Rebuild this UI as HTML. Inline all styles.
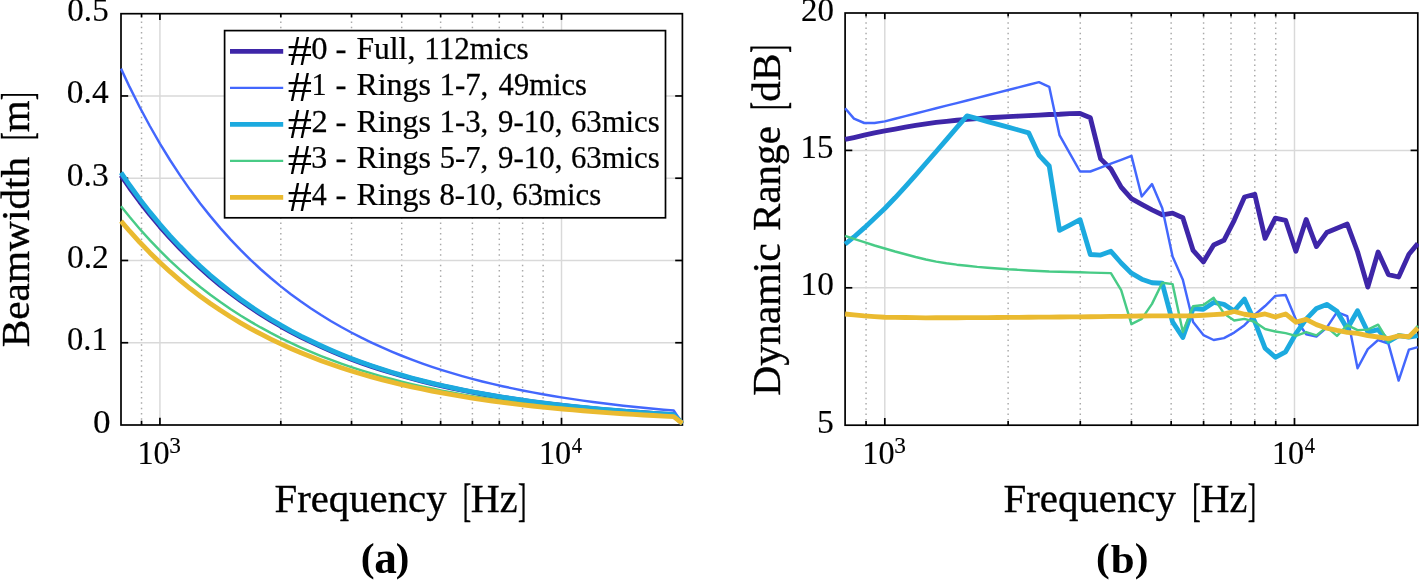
<!DOCTYPE html>
<html><head><meta charset="utf-8"><title>Beamwidth and Dynamic Range</title>
<style>html,body{margin:0;padding:0;background:#fff}svg{display:block}</style></head>
<body>
<svg width="1419" height="582" viewBox="0 0 1419 582">
<rect width="1419" height="582" fill="#fff"/>
<line x1="159.92" y1="13.70" x2="159.92" y2="425.00" stroke="#d9d9d9" stroke-width="1.45"/>
<line x1="561.51" y1="13.70" x2="561.51" y2="425.00" stroke="#d9d9d9" stroke-width="1.45"/>
<line x1="141.54" y1="16.20" x2="141.54" y2="425.00" stroke="#a9a9a9" stroke-width="1.45" stroke-dasharray="1.5 3.79"/>
<line x1="280.81" y1="16.20" x2="280.81" y2="425.00" stroke="#a9a9a9" stroke-width="1.45" stroke-dasharray="1.5 3.79"/>
<line x1="351.53" y1="16.20" x2="351.53" y2="425.00" stroke="#a9a9a9" stroke-width="1.45" stroke-dasharray="1.5 3.79"/>
<line x1="401.70" y1="16.20" x2="401.70" y2="425.00" stroke="#a9a9a9" stroke-width="1.45" stroke-dasharray="1.5 3.79"/>
<line x1="440.62" y1="16.20" x2="440.62" y2="425.00" stroke="#a9a9a9" stroke-width="1.45" stroke-dasharray="1.5 3.79"/>
<line x1="472.42" y1="16.20" x2="472.42" y2="425.00" stroke="#a9a9a9" stroke-width="1.45" stroke-dasharray="1.5 3.79"/>
<line x1="499.30" y1="16.20" x2="499.30" y2="425.00" stroke="#a9a9a9" stroke-width="1.45" stroke-dasharray="1.5 3.79"/>
<line x1="522.59" y1="16.20" x2="522.59" y2="425.00" stroke="#a9a9a9" stroke-width="1.45" stroke-dasharray="1.5 3.79"/>
<line x1="543.13" y1="16.20" x2="543.13" y2="425.00" stroke="#a9a9a9" stroke-width="1.45" stroke-dasharray="1.5 3.79"/>
<line x1="121.00" y1="342.74" x2="682.40" y2="342.74" stroke="#d9d9d9" stroke-width="1.45"/>
<line x1="121.00" y1="260.48" x2="682.40" y2="260.48" stroke="#d9d9d9" stroke-width="1.45"/>
<line x1="121.00" y1="178.22" x2="682.40" y2="178.22" stroke="#d9d9d9" stroke-width="1.45"/>
<line x1="121.00" y1="95.96" x2="682.40" y2="95.96" stroke="#d9d9d9" stroke-width="1.45"/>
<line x1="884.80" y1="13.00" x2="884.80" y2="425.20" stroke="#d9d9d9" stroke-width="1.45"/>
<line x1="1294.48" y1="13.00" x2="1294.48" y2="425.20" stroke="#d9d9d9" stroke-width="1.45"/>
<line x1="866.06" y1="16.85" x2="866.06" y2="425.20" stroke="#a9a9a9" stroke-width="1.45" stroke-dasharray="1.5 3.79"/>
<line x1="1008.13" y1="16.85" x2="1008.13" y2="425.20" stroke="#a9a9a9" stroke-width="1.45" stroke-dasharray="1.5 3.79"/>
<line x1="1080.27" y1="16.85" x2="1080.27" y2="425.20" stroke="#a9a9a9" stroke-width="1.45" stroke-dasharray="1.5 3.79"/>
<line x1="1131.45" y1="16.85" x2="1131.45" y2="425.20" stroke="#a9a9a9" stroke-width="1.45" stroke-dasharray="1.5 3.79"/>
<line x1="1171.15" y1="16.85" x2="1171.15" y2="425.20" stroke="#a9a9a9" stroke-width="1.45" stroke-dasharray="1.5 3.79"/>
<line x1="1203.59" y1="16.85" x2="1203.59" y2="425.20" stroke="#a9a9a9" stroke-width="1.45" stroke-dasharray="1.5 3.79"/>
<line x1="1231.02" y1="16.85" x2="1231.02" y2="425.20" stroke="#a9a9a9" stroke-width="1.45" stroke-dasharray="1.5 3.79"/>
<line x1="1254.77" y1="16.85" x2="1254.77" y2="425.20" stroke="#a9a9a9" stroke-width="1.45" stroke-dasharray="1.5 3.79"/>
<line x1="1275.73" y1="16.85" x2="1275.73" y2="425.20" stroke="#a9a9a9" stroke-width="1.45" stroke-dasharray="1.5 3.79"/>
<line x1="845.10" y1="287.80" x2="1417.80" y2="287.80" stroke="#d9d9d9" stroke-width="1.45"/>
<line x1="845.10" y1="150.40" x2="1417.80" y2="150.40" stroke="#d9d9d9" stroke-width="1.45"/>
<line x1="159.92" y1="425.00" x2="159.92" y2="417.80" stroke="#000" stroke-width="1.70"/>
<line x1="159.92" y1="13.70" x2="159.92" y2="19.90" stroke="#000" stroke-width="1.70"/>
<line x1="561.51" y1="425.00" x2="561.51" y2="417.80" stroke="#000" stroke-width="1.70"/>
<line x1="561.51" y1="13.70" x2="561.51" y2="19.90" stroke="#000" stroke-width="1.70"/>
<line x1="141.54" y1="425.00" x2="141.54" y2="420.70" stroke="#000" stroke-width="1.70"/>
<line x1="141.54" y1="13.70" x2="141.54" y2="17.30" stroke="#000" stroke-width="1.70"/>
<line x1="280.81" y1="425.00" x2="280.81" y2="420.70" stroke="#000" stroke-width="1.70"/>
<line x1="280.81" y1="13.70" x2="280.81" y2="17.30" stroke="#000" stroke-width="1.70"/>
<line x1="351.53" y1="425.00" x2="351.53" y2="420.70" stroke="#000" stroke-width="1.70"/>
<line x1="351.53" y1="13.70" x2="351.53" y2="17.30" stroke="#000" stroke-width="1.70"/>
<line x1="401.70" y1="425.00" x2="401.70" y2="420.70" stroke="#000" stroke-width="1.70"/>
<line x1="401.70" y1="13.70" x2="401.70" y2="17.30" stroke="#000" stroke-width="1.70"/>
<line x1="440.62" y1="425.00" x2="440.62" y2="420.70" stroke="#000" stroke-width="1.70"/>
<line x1="440.62" y1="13.70" x2="440.62" y2="17.30" stroke="#000" stroke-width="1.70"/>
<line x1="472.42" y1="425.00" x2="472.42" y2="420.70" stroke="#000" stroke-width="1.70"/>
<line x1="472.42" y1="13.70" x2="472.42" y2="17.30" stroke="#000" stroke-width="1.70"/>
<line x1="499.30" y1="425.00" x2="499.30" y2="420.70" stroke="#000" stroke-width="1.70"/>
<line x1="499.30" y1="13.70" x2="499.30" y2="17.30" stroke="#000" stroke-width="1.70"/>
<line x1="522.59" y1="425.00" x2="522.59" y2="420.70" stroke="#000" stroke-width="1.70"/>
<line x1="522.59" y1="13.70" x2="522.59" y2="17.30" stroke="#000" stroke-width="1.70"/>
<line x1="543.13" y1="425.00" x2="543.13" y2="420.70" stroke="#000" stroke-width="1.70"/>
<line x1="543.13" y1="13.70" x2="543.13" y2="17.30" stroke="#000" stroke-width="1.70"/>
<line x1="121.00" y1="342.74" x2="128.20" y2="342.74" stroke="#000" stroke-width="1.70"/>
<line x1="682.40" y1="342.74" x2="675.20" y2="342.74" stroke="#000" stroke-width="1.70"/>
<line x1="121.00" y1="260.48" x2="128.20" y2="260.48" stroke="#000" stroke-width="1.70"/>
<line x1="682.40" y1="260.48" x2="675.20" y2="260.48" stroke="#000" stroke-width="1.70"/>
<line x1="121.00" y1="178.22" x2="128.20" y2="178.22" stroke="#000" stroke-width="1.70"/>
<line x1="682.40" y1="178.22" x2="675.20" y2="178.22" stroke="#000" stroke-width="1.70"/>
<line x1="121.00" y1="95.96" x2="128.20" y2="95.96" stroke="#000" stroke-width="1.70"/>
<line x1="682.40" y1="95.96" x2="675.20" y2="95.96" stroke="#000" stroke-width="1.70"/>
<rect x="121.00" y="13.70" width="561.40" height="411.30" fill="none" stroke="#000" stroke-width="1.70"/>
<line x1="884.80" y1="425.20" x2="884.80" y2="418.00" stroke="#000" stroke-width="1.70"/>
<line x1="884.80" y1="13.00" x2="884.80" y2="19.20" stroke="#000" stroke-width="1.70"/>
<line x1="1294.48" y1="425.20" x2="1294.48" y2="418.00" stroke="#000" stroke-width="1.70"/>
<line x1="1294.48" y1="13.00" x2="1294.48" y2="19.20" stroke="#000" stroke-width="1.70"/>
<line x1="866.06" y1="425.20" x2="866.06" y2="420.90" stroke="#000" stroke-width="1.70"/>
<line x1="866.06" y1="13.00" x2="866.06" y2="16.60" stroke="#000" stroke-width="1.70"/>
<line x1="1008.13" y1="425.20" x2="1008.13" y2="420.90" stroke="#000" stroke-width="1.70"/>
<line x1="1008.13" y1="13.00" x2="1008.13" y2="16.60" stroke="#000" stroke-width="1.70"/>
<line x1="1080.27" y1="425.20" x2="1080.27" y2="420.90" stroke="#000" stroke-width="1.70"/>
<line x1="1080.27" y1="13.00" x2="1080.27" y2="16.60" stroke="#000" stroke-width="1.70"/>
<line x1="1131.45" y1="425.20" x2="1131.45" y2="420.90" stroke="#000" stroke-width="1.70"/>
<line x1="1131.45" y1="13.00" x2="1131.45" y2="16.60" stroke="#000" stroke-width="1.70"/>
<line x1="1171.15" y1="425.20" x2="1171.15" y2="420.90" stroke="#000" stroke-width="1.70"/>
<line x1="1171.15" y1="13.00" x2="1171.15" y2="16.60" stroke="#000" stroke-width="1.70"/>
<line x1="1203.59" y1="425.20" x2="1203.59" y2="420.90" stroke="#000" stroke-width="1.70"/>
<line x1="1203.59" y1="13.00" x2="1203.59" y2="16.60" stroke="#000" stroke-width="1.70"/>
<line x1="1231.02" y1="425.20" x2="1231.02" y2="420.90" stroke="#000" stroke-width="1.70"/>
<line x1="1231.02" y1="13.00" x2="1231.02" y2="16.60" stroke="#000" stroke-width="1.70"/>
<line x1="1254.77" y1="425.20" x2="1254.77" y2="420.90" stroke="#000" stroke-width="1.70"/>
<line x1="1254.77" y1="13.00" x2="1254.77" y2="16.60" stroke="#000" stroke-width="1.70"/>
<line x1="1275.73" y1="425.20" x2="1275.73" y2="420.90" stroke="#000" stroke-width="1.70"/>
<line x1="1275.73" y1="13.00" x2="1275.73" y2="16.60" stroke="#000" stroke-width="1.70"/>
<line x1="845.10" y1="287.80" x2="852.30" y2="287.80" stroke="#000" stroke-width="1.70"/>
<line x1="1417.80" y1="287.80" x2="1410.60" y2="287.80" stroke="#000" stroke-width="1.70"/>
<line x1="845.10" y1="150.40" x2="852.30" y2="150.40" stroke="#000" stroke-width="1.70"/>
<line x1="1417.80" y1="150.40" x2="1410.60" y2="150.40" stroke="#000" stroke-width="1.70"/>
<rect x="845.10" y="13.00" width="572.70" height="412.20" fill="none" stroke="#000" stroke-width="1.70"/>
<g fill="none" stroke-linejoin="round" stroke-linecap="butt">
<polyline points="121.00,175.45 129.70,187.97 139.77,201.64 149.84,214.48 159.92,226.54 169.99,237.87 180.07,248.54 190.14,258.57 200.22,268.01 210.29,276.90 220.36,285.27 230.44,293.16 240.51,300.59 250.59,307.59 260.66,314.19 270.73,320.41 280.81,326.27 290.88,331.80 300.96,337.02 311.03,341.94 321.11,346.62 331.18,351.04 341.25,355.21 351.33,359.14 361.40,362.85 371.48,366.35 381.55,369.66 391.63,372.77 401.70,375.72 411.77,378.49 421.85,381.11 431.92,383.58 442.00,385.91 452.07,388.11 462.15,390.19 472.22,392.15 482.29,394.00 492.37,395.75 502.44,397.40 512.52,398.95 522.59,400.42 532.67,401.81 542.74,403.11 552.81,404.35 562.89,405.51 572.96,406.61 583.04,407.65 593.11,408.63 603.18,409.55 613.26,410.43 623.33,411.25 633.41,412.03 643.48,412.76 653.56,413.45 663.63,414.11 673.70,414.73 682.40,423.44" stroke="#3E26A8" stroke-width="4.85"/>
<polyline points="121.00,68.64 129.70,87.15 139.77,107.24 149.84,126.01 159.92,143.57 169.99,160.00 180.07,175.40 190.14,189.84 200.22,203.40 210.29,216.13 220.36,228.09 230.44,239.33 240.51,249.91 250.59,259.86 260.66,269.23 270.73,278.04 280.81,286.35 290.88,294.17 300.96,301.54 311.03,308.49 321.11,315.04 331.18,321.21 341.25,327.03 351.33,332.52 361.40,337.69 371.48,342.58 381.55,347.23 391.63,351.61 401.70,355.75 411.77,359.65 421.85,363.33 431.92,366.81 442.00,370.08 452.07,373.18 462.15,376.09 472.22,378.85 482.29,381.45 492.37,383.90 502.44,386.21 512.52,388.40 522.59,390.46 532.67,392.41 542.74,394.24 552.81,395.97 562.89,397.61 572.96,399.15 583.04,400.61 593.11,401.99 603.18,403.28 613.26,404.51 623.33,405.66 633.41,406.75 643.48,407.78 653.56,408.76 663.63,409.67 673.70,410.54 682.40,423.44" stroke="#4367FD" stroke-width="2.45"/>
<polyline points="121.00,172.63 129.70,185.30 139.77,199.13 149.84,212.12 159.92,224.32 169.99,235.79 180.07,246.58 190.14,256.73 200.22,266.28 210.29,275.27 220.36,283.73 230.44,291.71 240.51,299.22 250.59,306.30 260.66,312.97 270.73,319.27 280.81,325.20 290.88,330.79 300.96,336.06 311.03,341.04 321.11,345.76 331.18,350.23 341.25,354.44 351.33,358.42 361.40,362.17 371.48,365.71 381.55,369.05 391.63,372.20 401.70,375.18 411.77,377.98 421.85,380.63 431.92,383.13 442.00,385.49 452.07,387.71 462.15,389.81 472.22,391.79 482.29,393.66 492.37,395.43 502.44,397.09 512.52,398.67 522.59,400.15 532.67,401.55 542.74,402.87 552.81,404.12 562.89,405.30 572.96,406.41 583.04,407.46 593.11,408.45 603.18,409.38 613.26,410.27 623.33,411.10 633.41,411.89 643.48,412.63 653.56,413.33 663.63,413.99 673.70,414.61 682.40,423.44" stroke="#1CAADF" stroke-width="4.85"/>
<polyline points="121.00,206.16 129.70,217.05 139.77,228.95 149.84,240.15 159.92,250.67 169.99,260.58 180.07,269.90 190.14,278.68 200.22,286.95 210.29,294.74 220.36,302.08 230.44,308.99 240.51,315.51 250.59,321.66 260.66,327.45 270.73,332.91 280.81,338.07 290.88,342.93 300.96,347.56 311.03,351.93 321.11,356.05 331.18,359.93 341.25,363.60 351.33,367.06 361.40,370.32 371.48,373.40 381.55,376.31 391.63,379.05 401.70,381.64 411.77,384.08 421.85,386.38 431.92,388.56 442.00,390.61 452.07,392.55 462.15,394.37 472.22,396.10 482.29,397.73 492.37,399.27 502.44,400.72 512.52,402.08 522.59,403.38 532.67,404.60 542.74,405.75 552.81,406.83 562.89,407.86 572.96,408.83 583.04,409.74 593.11,410.60 603.18,411.42 613.26,412.18 623.33,412.91 633.41,413.59 643.48,414.24 653.56,414.85 663.63,415.42 673.70,415.97 682.40,423.44" stroke="#48CB86" stroke-width="2.45"/>
<polyline points="121.00,221.11 129.70,231.22 139.77,242.28 149.84,252.68 159.92,262.46 169.99,271.68 180.07,280.35 190.14,288.52 200.22,296.22 210.29,303.47 220.36,310.31 230.44,316.75 240.51,322.83 250.59,328.56 260.66,333.96 270.73,339.05 280.81,343.87 290.88,348.44 300.96,352.76 311.03,356.83 321.11,360.67 331.18,364.30 341.25,367.72 351.33,370.94 361.40,373.99 371.48,376.86 381.55,379.57 391.63,382.13 401.70,384.54 411.77,386.82 421.85,388.97 431.92,391.00 442.00,392.92 452.07,394.72 462.15,396.43 472.22,398.04 482.29,399.56 492.37,400.99 502.44,402.35 512.52,403.62 522.59,404.83 532.67,405.97 542.74,407.04 552.81,408.05 562.89,409.01 572.96,409.91 583.04,410.77 593.11,411.57 603.18,412.33 613.26,413.05 623.33,413.72 633.41,414.36 643.48,414.97 653.56,415.53 663.63,416.07 673.70,416.58 682.40,423.44" stroke="#EABA30" stroke-width="4.85"/>
</g>
<g fill="none" stroke-linejoin="round" stroke-linecap="butt">
<polyline points="845.10,139.44 853.97,137.52 864.25,135.06 874.52,132.86 884.80,130.95 895.08,129.03 905.36,127.11 915.63,125.47 925.91,123.82 936.19,122.45 946.46,121.36 956.74,120.26 967.02,119.44 977.29,118.62 987.57,117.79 997.85,117.25 1008.13,116.70 1018.40,116.15 1028.68,115.60 1038.96,115.05 1049.23,114.51 1059.51,114.23 1069.79,113.68 1080.06,113.41 1090.34,117.79 1100.62,158.89 1110.90,169.03 1121.17,187.12 1131.45,198.62 1141.73,204.38 1152.00,209.86 1162.28,214.79 1172.56,213.15 1182.84,217.80 1193.11,250.41 1203.39,261.92 1213.67,244.93 1223.94,240.27 1234.22,220.27 1244.50,196.98 1254.77,194.24 1265.05,238.35 1275.33,218.08 1285.61,220.27 1295.88,251.23 1306.16,219.45 1316.44,246.57 1326.71,232.60 1336.99,228.22 1347.27,224.11 1357.54,251.78 1367.82,287.13 1378.10,252.05 1388.38,274.52 1398.65,276.99 1408.93,254.25 1417.80,243.56" stroke="#3E26A8" stroke-width="4.85"/>
<polyline points="845.10,108.20 853.97,118.62 864.25,123.00 874.52,123.00 884.80,121.36 895.08,118.74 905.36,116.13 915.63,113.52 925.91,110.91 936.19,108.30 946.46,105.68 956.74,103.07 967.02,100.46 977.29,97.85 987.57,95.23 997.85,92.62 1008.13,90.01 1018.40,87.40 1028.68,84.79 1038.96,82.17 1049.23,86.83 1059.51,135.06 1069.79,153.41 1080.06,171.50 1090.34,171.50 1100.62,167.59 1110.90,163.69 1121.17,159.78 1131.45,155.88 1141.73,196.43 1152.00,184.10 1162.28,208.21 1172.56,256.44 1182.84,279.73 1193.11,321.92 1203.39,335.08 1213.67,340.01 1223.94,338.09 1234.22,332.61 1244.50,325.21 1254.77,314.80 1265.05,306.03 1275.33,295.89 1285.61,295.07 1295.88,319.46 1306.16,334.25 1316.44,336.45 1326.71,327.68 1336.99,312.06 1347.27,316.17 1357.54,368.23 1367.82,349.05 1378.10,340.01 1388.38,343.57 1398.65,380.56 1408.93,349.60 1417.80,347.13" stroke="#4367FD" stroke-width="2.45"/>
<polyline points="845.10,244.11 853.97,236.98 864.25,227.94 874.52,218.35 884.80,208.49 895.08,197.80 905.36,186.57 915.63,175.06 925.91,163.28 936.19,151.50 946.46,139.71 956.74,127.66 967.02,115.88 977.29,118.71 987.57,121.54 997.85,124.37 1008.13,127.20 1018.40,130.03 1028.68,132.86 1038.96,155.06 1049.23,166.02 1059.51,230.41 1069.79,225.20 1080.06,219.72 1090.34,254.52 1100.62,255.07 1110.90,251.23 1121.17,263.01 1131.45,273.15 1141.73,279.18 1152.00,282.74 1162.28,283.29 1172.56,321.92 1182.84,337.54 1193.11,308.50 1203.39,309.32 1213.67,302.47 1223.94,304.39 1234.22,310.96 1244.50,299.18 1254.77,321.65 1265.05,348.23 1275.33,357.27 1285.61,351.79 1295.88,333.71 1306.16,319.18 1316.44,308.50 1326.71,304.39 1336.99,311.24 1347.27,328.77 1357.54,310.69 1367.82,332.06 1378.10,329.60 1388.38,341.65 1398.65,335.62 1408.93,336.99 1417.80,335.62" stroke="#1CAADF" stroke-width="4.85"/>
<polyline points="845.10,235.89 853.97,238.90 864.25,242.19 874.52,245.48 884.80,248.49 895.08,251.51 905.36,254.25 915.63,256.99 925.91,259.45 936.19,261.64 946.46,263.29 956.74,264.66 967.02,265.75 977.29,266.85 987.57,267.67 997.85,268.49 1008.13,269.32 1018.40,269.86 1028.68,270.41 1038.96,270.96 1049.23,271.51 1059.51,271.78 1069.79,272.06 1080.06,272.33 1090.34,272.60 1100.62,272.88 1110.90,273.15 1121.17,290.14 1131.45,324.12 1141.73,318.91 1152.00,303.84 1162.28,282.74 1172.56,284.11 1182.84,332.06 1193.11,306.31 1203.39,304.94 1213.67,297.81 1223.94,313.43 1234.22,320.55 1244.50,318.91 1254.77,321.92 1265.05,329.05 1275.33,331.51 1285.61,333.16 1295.88,335.90 1306.16,332.06 1316.44,335.35 1326.71,327.13 1336.99,335.90 1347.27,325.21 1357.54,330.14 1367.82,329.60 1378.10,324.66 1388.38,341.65 1398.65,334.53 1408.93,336.45 1417.80,325.76" stroke="#48CB86" stroke-width="2.45"/>
<polyline points="845.10,313.98 853.97,314.94 864.25,315.90 874.52,316.58 884.80,317.27 895.08,317.40 905.36,317.54 915.63,317.68 925.91,317.81 936.19,317.77 946.46,317.74 956.74,317.70 967.02,317.66 977.29,317.62 987.57,317.58 997.85,317.54 1008.13,317.45 1018.40,317.36 1028.68,317.27 1038.96,317.17 1049.23,317.08 1059.51,316.99 1069.79,316.90 1080.06,316.81 1090.34,316.72 1100.62,316.58 1110.90,316.44 1121.17,316.31 1131.45,316.17 1141.73,316.03 1152.00,315.90 1162.28,315.90 1172.56,315.90 1182.84,315.90 1193.11,315.90 1203.39,315.26 1213.67,314.62 1223.94,313.98 1234.22,311.51 1244.50,314.25 1254.77,315.90 1265.05,313.98 1275.33,316.99 1285.61,313.98 1295.88,322.20 1306.16,319.46 1316.44,324.66 1326.71,328.23 1336.99,330.42 1347.27,332.34 1357.54,333.43 1367.82,335.62 1378.10,336.99 1388.38,338.64 1398.65,335.90 1408.93,336.72 1417.80,327.95" stroke="#EABA30" stroke-width="4.85"/>
</g>
<rect x="224.60" y="30.60" width="440.90" height="187.20" fill="#fff" stroke="#000" stroke-width="1.70"/>
<line x1="230" y1="51.35" x2="283.2" y2="51.35" stroke="#3E26A8" stroke-width="4.85"/>
<line x1="230" y1="87.85" x2="283.2" y2="87.85" stroke="#4367FD" stroke-width="2.45"/>
<line x1="230" y1="124.35" x2="283.2" y2="124.35" stroke="#1CAADF" stroke-width="4.85"/>
<line x1="230" y1="160.85" x2="283.2" y2="160.85" stroke="#48CB86" stroke-width="2.45"/>
<line x1="230" y1="197.35" x2="283.2" y2="197.35" stroke="#EABA30" stroke-width="4.85"/>
<g font-family="'Liberation Serif', serif" fill="#000" stroke="#000" stroke-width="0.35">
<text transform="translate(92.88,432.70) scale(1.0571,1.0000)" font-size="33.3" stroke-width="0.15">0</text>
<text transform="translate(66.98,350.04) scale(0.9792,1.0000)" font-size="33.3" stroke-width="0.15">0.1</text>
<text transform="translate(66.94,267.78) scale(1.0078,1.0000)" font-size="33.3" stroke-width="0.15">0.2</text>
<text transform="translate(66.84,185.52) scale(1.0051,1.0000)" font-size="33.3" stroke-width="0.15">0.3</text>
<text transform="translate(66.85,103.26) scale(1.0025,1.0000)" font-size="33.3" stroke-width="0.15">0.4</text>
<text transform="translate(67.36,21.00) scale(0.9923,1.0000)" font-size="33.3" stroke-width="0.15">0.5</text>
<text transform="translate(817.08,432.80) scale(1.0113,1.0000)" font-size="33.3" stroke-width="0.15">5</text>
<text transform="translate(800.50,295.40) scale(1.0000,1.0000)" font-size="33.3" stroke-width="0.15">10</text>
<text transform="translate(800.54,158.00) scale(0.9862,1.0000)" font-size="33.3" stroke-width="0.15">15</text>
<text transform="translate(801.11,20.60) scale(0.9902,1.0000)" font-size="33.3" stroke-width="0.15">20</text>
<text transform="translate(137.41,464.00) scale(0.9690,1.0000)" font-size="33.3" stroke-width="0.15">10</text><text transform="translate(169.27,452.70) scale(1.0000,1.0000)" font-size="23.3" stroke-width="0.15">3</text>
<text transform="translate(539.00,464.00) scale(0.9690,1.0000)" font-size="33.3" stroke-width="0.15">10</text><text transform="translate(571.67,452.70) scale(0.8837,1.0000)" font-size="23.3" stroke-width="0.15">4</text>
<text transform="translate(862.29,464.00) scale(0.9690,1.0000)" font-size="33.3" stroke-width="0.15">10</text><text transform="translate(894.15,452.70) scale(1.0000,1.0000)" font-size="23.3" stroke-width="0.15">3</text>
<text transform="translate(1271.97,464.00) scale(0.9690,1.0000)" font-size="33.3" stroke-width="0.15">10</text><text transform="translate(1304.63,452.70) scale(0.8837,1.0000)" font-size="23.3" stroke-width="0.15">4</text>
<text transform="translate(274.53,512.10) scale(1.0191,1.0000)" font-size="40">Frequency</text>
<text transform="translate(462.71,515.51) scale(0.6286,1.1788)" font-size="40">[</text><text transform="translate(470.85,512.10) scale(1.0034,1.0000)" font-size="40">Hz</text><text transform="translate(517.96,515.51) scale(0.6286,1.1788)" font-size="40">]</text>
<text transform="translate(1003.42,512.40) scale(1.0221,1.0000)" font-size="40">Frequency</text>
<text transform="translate(1192.21,515.71) scale(0.6286,1.1788)" font-size="40">[</text><text transform="translate(1200.55,512.40) scale(1.0034,1.0000)" font-size="40">Hz</text><text transform="translate(1247.86,515.71) scale(0.6286,1.1788)" font-size="40">]</text>
<text transform="translate(28.90,347.29) rotate(-90) scale(1.0331,1.0000)" font-size="40">Beamwidth</text>
<text transform="translate(32.39,140.11) rotate(-90) scale(0.5714,1.1061)" font-size="40">[</text><text transform="translate(28.90,132.37) rotate(-90) scale(1.0218,1.0000)" font-size="40">m</text><text transform="translate(32.39,99.96) rotate(-90) scale(0.5714,1.1061)" font-size="40">]</text>
<text transform="translate(780.40,395.80) rotate(-90) scale(1.0406,1.0000)" font-size="40">Dynamic</text>
<text transform="translate(780.40,230.98) rotate(-90) scale(1.0261,1.0000)" font-size="40">Range</text>
<text transform="translate(784.13,109.71) rotate(-90) scale(0.5714,1.1939)" font-size="40">[</text><text transform="translate(780.40,101.65) rotate(-90) scale(1.0312,1.0000)" font-size="40">dB</text><text transform="translate(784.13,52.76) rotate(-90) scale(0.5714,1.1939)" font-size="40">]</text>
<text transform="translate(360.87,571.35) scale(0.9909,0.9430)" font-size="42" font-weight="bold" stroke="none">(</text><text transform="translate(374.25,572.60) scale(1.0789,1.1139)" font-size="42" font-weight="bold" stroke="none">a</text><text transform="translate(395.68,571.35) scale(0.9727,0.9430)" font-size="42" font-weight="bold" stroke="none">)</text>
<text transform="translate(1096.08,571.35) scale(0.9818,0.9430)" font-size="42" font-weight="bold" stroke="none">(</text><text transform="translate(1110.69,572.60) scale(1.0212,0.9655)" font-size="42" font-weight="bold" stroke="none">b</text><text transform="translate(1134.67,571.35) scale(0.9818,0.9430)" font-size="42" font-weight="bold" stroke="none">)</text>
<text transform="translate(287.72,64.50) scale(1.5586,1.3580)" font-size="31" stroke="none">#</text><text transform="translate(311.28,58.90) scale(1.0538,1.0000)" font-size="31" stroke-width="0.25">0</text>
<text transform="translate(335.57,58.90) scale(1.0625,1.0000)" font-size="31" stroke-width="0.25">-</text>
<text transform="translate(356.48,58.90) scale(1.0192,1.0000)" font-size="31" stroke-width="0.25">Full,</text>
<text transform="translate(424.34,58.90) scale(1.0040,1.0000)" font-size="31" stroke-width="0.25">112mics</text>
<text transform="translate(287.72,101.00) scale(1.5586,1.3580)" font-size="31" stroke="none">#</text><text transform="translate(311.62,95.40) scale(0.9727,1.0000)" font-size="31" stroke-width="0.25">1</text>
<text transform="translate(335.57,95.40) scale(1.0625,1.0000)" font-size="31" stroke-width="0.25">-</text>
<text transform="translate(356.47,95.40) scale(1.0292,1.0000)" font-size="31" stroke-width="0.25">Rings</text>
<text transform="translate(439.47,95.40) scale(0.9944,1.0000)" font-size="31" stroke-width="0.25">1-7,</text>
<text transform="translate(498.61,95.40) scale(0.9852,1.0000)" font-size="31" stroke-width="0.25">49mics</text>
<text transform="translate(287.72,137.50) scale(1.5586,1.3580)" font-size="31" stroke="none">#</text><text transform="translate(311.59,131.90) scale(1.0480,1.0000)" font-size="31" stroke-width="0.25">2</text>
<text transform="translate(335.57,131.90) scale(1.0625,1.0000)" font-size="31" stroke-width="0.25">-</text>
<text transform="translate(356.47,131.90) scale(1.0292,1.0000)" font-size="31" stroke-width="0.25">Rings</text>
<text transform="translate(439.47,131.90) scale(0.9944,1.0000)" font-size="31" stroke-width="0.25">1-3,</text>
<text transform="translate(498.10,131.90) scale(0.9967,1.0000)" font-size="31" stroke-width="0.25">9-10,</text>
<text transform="translate(570.96,131.90) scale(0.9914,1.0000)" font-size="31" stroke-width="0.25">63mics</text>
<text transform="translate(287.72,174.00) scale(1.5586,1.3580)" font-size="31" stroke="none">#</text><text transform="translate(311.36,168.40) scale(1.0275,1.0000)" font-size="31" stroke-width="0.25">3</text>
<text transform="translate(335.57,168.40) scale(1.0625,1.0000)" font-size="31" stroke-width="0.25">-</text>
<text transform="translate(356.47,168.40) scale(1.0292,1.0000)" font-size="31" stroke-width="0.25">Rings</text>
<text transform="translate(439.77,168.40) scale(0.9878,1.0000)" font-size="31" stroke-width="0.25">5-7,</text>
<text transform="translate(498.10,168.40) scale(0.9967,1.0000)" font-size="31" stroke-width="0.25">9-10,</text>
<text transform="translate(570.96,168.40) scale(0.9914,1.0000)" font-size="31" stroke-width="0.25">63mics</text>
<text transform="translate(287.72,210.50) scale(1.5586,1.3580)" font-size="31" stroke="none">#</text><text transform="translate(311.82,204.90) scale(0.9655,1.0000)" font-size="31" stroke-width="0.25">4</text>
<text transform="translate(335.57,204.90) scale(1.0625,1.0000)" font-size="31" stroke-width="0.25">-</text>
<text transform="translate(356.47,204.90) scale(1.0292,1.0000)" font-size="31" stroke-width="0.25">Rings</text>
<text transform="translate(439.57,204.90) scale(0.9878,1.0000)" font-size="31" stroke-width="0.25">8-10,</text>
<text transform="translate(512.36,204.90) scale(0.9926,1.0000)" font-size="31" stroke-width="0.25">63mics</text>
</g>
</svg>
</body></html>
